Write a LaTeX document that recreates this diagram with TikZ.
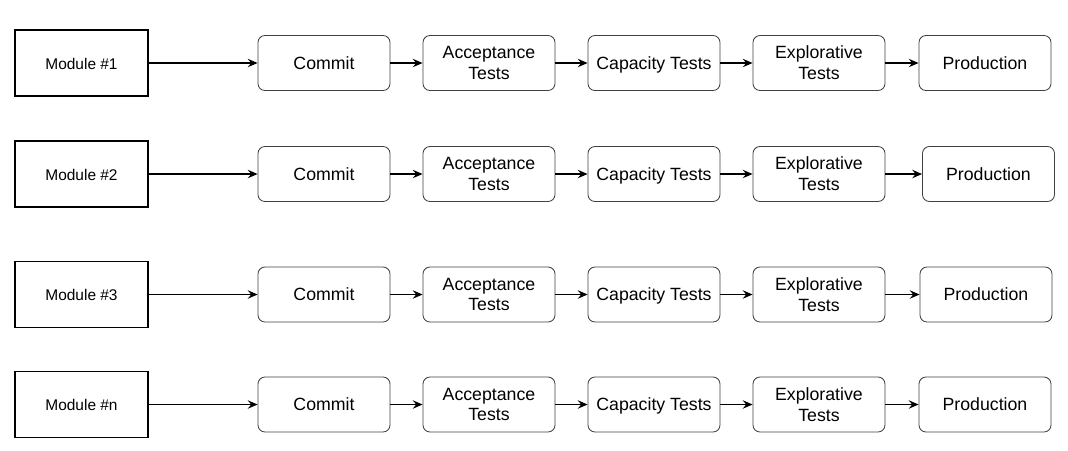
\documentclass[tikz,border=0pt]{standalone}
\usepackage{fontspec}
\setmainfont{Liberation Sans}
\usetikzlibrary{arrows.meta}
\tikzset{
  modbox/.style={draw, line width=0.9pt, minimum width=3.325cm, minimum height=1.65cm,
    font=\fontsize{11}{13}\selectfont},
  stagebox/.style={draw=black!75, line width=0.6pt, rounded corners=5pt, minimum width=3.3cm,
    minimum height=1.375cm, align=center, font=\fontsize{12.6}{14.9}\selectfont},
  oneline/.style={text height=0.92em, text depth=0em},
  flow/.style={-{Stealth[length=7pt,width=6pt,inset=2.5pt]}, line width=0.8pt}
}
\begin{document}
\begin{tikzpicture}[x=0.025cm, y=-0.025cm]
  \useasboundingbox (0,0) rectangle (1068,450);
  % one pipeline per module, all with the same stages
  \foreach \row/\yc/\lbl/\px in {1/63/1/985, 2/174/2/988.5, 3/294.5/3/986, 4/404.5/n/985} {
    \node[modbox, oneline] (mod\row) at (81.5,\yc) {Module \#\lbl};
    \node[stagebox, oneline] (commit\row) at (324,\yc) {Commit};
    \node[stagebox] (accept\row) at (489,\yc) {Acceptance\\Tests};
    \node[stagebox, oneline] (capacity\row) at (654,\yc) {Capacity Tests};
    \node[stagebox] (explore\row) at (819,\yc) {Explorative\\Tests};
    \node[stagebox, oneline] (prod\row) at (\px,\yc) {Production};
    \draw[flow] (mod\row) -- (commit\row);
    \draw[flow] (commit\row) -- (accept\row);
    \draw[flow] (accept\row) -- (capacity\row);
    \draw[flow] (capacity\row) -- (explore\row);
    \draw[flow] (explore\row) -- (prod\row);
  }
\end{tikzpicture}
\end{document}
